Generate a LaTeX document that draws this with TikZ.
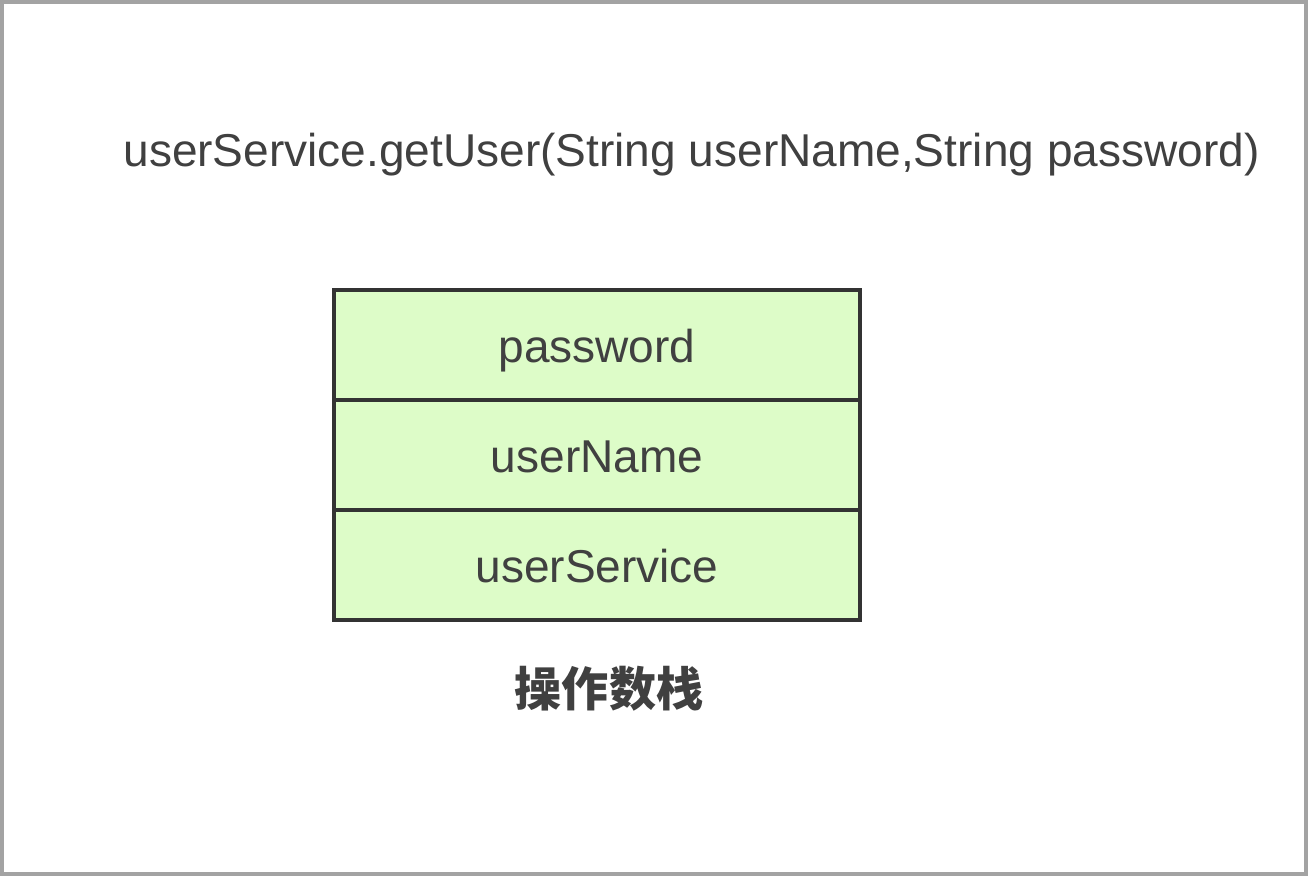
\documentclass[tikz,border=0pt]{standalone}
\usepackage{fontspec}
\setmainfont{Liberation Sans}
\newfontfamily\cjk{Noto Sans CJK SC}
\usetikzlibrary{positioning}
\definecolor{slotgreen}{HTML}{DDFCC8}
\definecolor{inkgray}{HTML}{404040}
\definecolor{framegray}{HTML}{A3A3A3}

\begin{document}
\begin{tikzpicture}[
    % text and stack slot styles
    every node/.style={font=\fontsize{13.1}{15}\selectfont, text=inkgray},
    slot/.style={draw=black!80, fill=slotgreen, line width=1.3pt,
        minimum width=5.26cm, minimum height=1.10cm, inner sep=0pt,
        outer sep=0pt, text height=12.5pt, text depth=2.4pt},
    caption/.style={font=\cjk\bfseries\fontsize{13.4}{15}\selectfont},
    node distance=0cm
]
% outer frame
\draw[framegray, line width=1.1pt, fill=white] (0.02,0.02) rectangle (13.06,8.74);
\useasboundingbox (0,0) rectangle (13.08,8.76);

% method call
\node (call) at (6.915,7.21) {userService.getUser(String userName,String password)};

% operand stack, top slot first
\node[slot] (s0) at (5.97,5.31) {password};
\node[slot, below=of s0] (s1) {userName};
\node[slot, below=of s1] (s2) {userService};

% caption
\node[caption, below=0.34cm of s2, xshift=0.12cm] (stack) {操作数栈};
\end{tikzpicture}
\end{document}
